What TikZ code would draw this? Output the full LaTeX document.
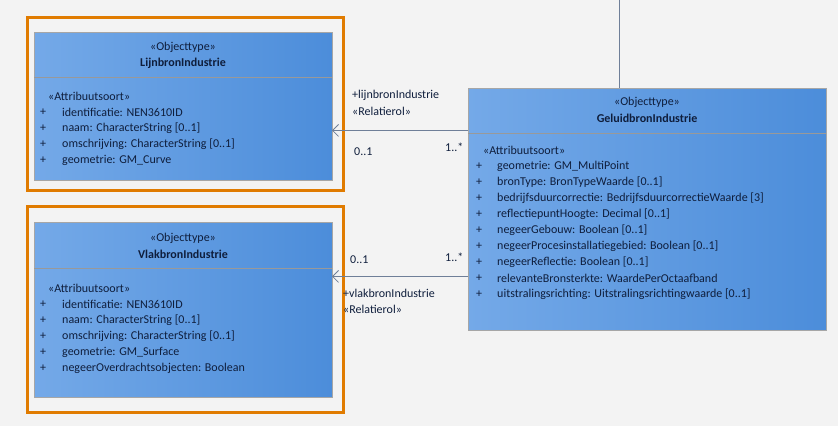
\documentclass[tikz,border=0pt]{standalone}
\usepackage{fontspec}
\setmainfont{Carlito}
\usetikzlibrary{arrows.meta}
\definecolor{bg}{HTML}{F3F3F3}
\definecolor{frame}{HTML}{E07B00}
\definecolor{boxL}{HTML}{74A9E8}
\definecolor{boxR}{HTML}{4C8DDA}
\definecolor{txt}{HTML}{0F1E3C}
\definecolor{conn}{HTML}{6F7F98}
\tikzset{
  cls/.style={draw=gray!70, left color=boxL, right color=boxR},
  sel/.style={draw=frame, line width=3pt},
  lbl/.style={font=\fontsize{12}{14}\selectfont, text=txt, inner sep=0pt},
  row/.style={lbl, anchor=west},
  rel/.style={draw=conn, line width=0.8pt},
  assoc/.style={rel, -{Straight Barb[length=6pt,width=12pt]}}
}
\begin{document}
\begin{tikzpicture}[x=1pt, y=-1pt]
\fill[bg] (0,0) rectangle (838,426);
% frames
\draw[sel] (27,17) rectangle (343,190);
\draw[sel] (27,206) rectangle (343,412);
% classes
\draw[cls] (34,32) rectangle (332,180);
\draw[gray!80] (34,77) -- (332,77);
\draw[cls] (34,222) rectangle (332,397);
\draw[gray!80] (34,268) -- (332,268);
\draw[cls] (468,88) rectangle (826,330);
\draw[gray!80] (468,133) -- (826,133);
\coordinate (top) at (619,0);
\coordinate (g) at (619,88);
\draw[rel] (top) -- (g);
% LijnbronIndustrie
\node[lbl] (lst) at (183,47) {«Objecttype»};
\node[lbl] (lname) at (183,63) {\textbf{LijnbronIndustrie}};
\node[row] (lat) at (48,96) {«Attribuutsoort»};
\foreach \t [count=\i] in {identificatie: NEN3610ID, naam: CharacterString [0..1],
  omschrijving: CharacterString [0..1], geometrie: GM\_Curve} {
  \node[row] at (40,96+16*\i) {+};
  \node[row] at (62,96+16*\i) {\t};
}
% VlakbronIndustrie
\node[lbl] (vst) at (183,238) {«Objecttype»};
\node[lbl] (vname) at (183,254) {\textbf{VlakbronIndustrie}};
\node[row] (vat) at (48,288) {«Attribuutsoort»};
\foreach \t [count=\i] in {identificatie: NEN3610ID, naam: CharacterString [0..1],
  omschrijving: CharacterString [0..1], geometrie: GM\_Surface,
  negeerOverdrachtsobjecten: Boolean} {
  \node[row] at (40,288+16*\i) {+};
  \node[row] at (62,288+16*\i) {\t};
}
% GeluidbronIndustrie
\node[lbl] (gst) at (647,102) {«Objecttype»};
\node[lbl] (gname) at (647,118) {\textbf{GeluidbronIndustrie}};
\node[row] (gat) at (483,150) {«Attribuutsoort»};
\foreach \t [count=\i] in {geometrie: GM\_MultiPoint, bronType: BronTypeWaarde [0..1],
  bedrijfsduurcorrectie: BedrijfsduurcorrectieWaarde [3], reflectiepuntHoogte: Decimal [0..1],
  negeerGebouw: Boolean [0..1], negeerProcesinstallatiegebied: Boolean [0..1],
  negeerReflectie: Boolean [0..1], relevanteBronsterkte: WaardePerOctaafband,
  uitstralingsrichting: Uitstralingsrichtingwaarde [0..1]} {
  \node[row] at (476,150+16*\i) {+};
  \node[row] at (497,150+16*\i) {\t};
}
% associations
\coordinate (a1s) at (468,130);
\coordinate (a1e) at (332,130);
\coordinate (a2s) at (468,276);
\coordinate (a2e) at (332,276);
\draw[assoc] (a1s) -- (a1e);
\draw[assoc] (a2s) -- (a2e);
\node[row] at (352,95) {+lijnbronIndustrie};
\node[row] at (352,111) {«Relatierol»};
\node[row] at (354,151) {0..1};
\node[row] at (445,147) {1..*};
\node[row] at (350,259) {0..1};
\node[row] at (445,257) {1..*};
\node[row] at (343,293) {+vlakbronIndustrie};
\node[row] at (343,309) {«Relatierol»};
\end{tikzpicture}
\end{document}
